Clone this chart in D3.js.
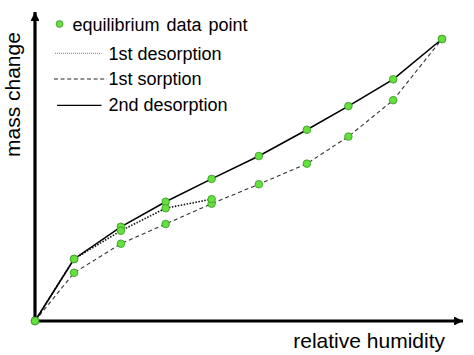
<!DOCTYPE html>
<html>
<head>
<meta charset="utf-8">
<script src="https://cdn.jsdelivr.net/npm/d3@7"></script>
<style>
  body { margin: 0; background: #fff; }
  text { font-family: "Liberation Sans", Arial, sans-serif; fill: #000; }
</style>
</head>
<body>
<svg id="fig" width="474" height="355"></svg>
<script>
// relative humidity steps (arbitrary units, 0..100)
var rh = [0, 9.6, 21.1, 32.1, 43.4, 55.0, 66.8, 77.0, 88.0, 100];

// mass change, arbitrary units
var secondDesorption = [0, 22.0, 33.4, 42.3, 50.4, 58.5, 67.8, 76.2, 85.7, 100];
var firstSorption    = [0, 17.1, 27.4, 34.4, 41.6, 48.5, 55.8, 65.4, 78.3, 100];
var firstDesorptionRh   = [43.4, 32.1, 21.1, 9.6, 0];
var firstDesorptionMass = [43.2, 40.0, 32.0, 22.0, 0];

var legendLabels = ["equilibrium data point", "1st desorption", "1st sorption", "2nd desorption"];

var svg = d3.select("#fig");

var x = d3.scaleLinear().domain([0, 100]).range([35, 442]);
var y = d3.scaleLinear().domain([0, 100]).range([321, 39]);

// arrow marker
var defs = svg.append("defs");
defs.append("marker")
    .attr("id", "arrow")
    .attr("viewBox", "0 0 10 10")
    .attr("refX", 10).attr("refY", 5)
    .attr("markerWidth", 3.2).attr("markerHeight", 2.8)
    .attr("markerUnits", "strokeWidth")
    .attr("orient", "auto")
  .append("path")
    .attr("d", "M0,0L10,5L0,10Z")
    .attr("fill", "#000");

var line = d3.line().x(d => x(d[0])).y(d => y(d[1]));

var sorp = rh.map((r, i) => [r, firstSorption[i]]);
var des2 = rh.map((r, i) => [r, secondDesorption[i]]);
var des1 = firstDesorptionRh.map((r, i) => [r, firstDesorptionMass[i]]);

svg.append("path").attr("d", line(sorp))
    .attr("fill", "none").attr("stroke", "#333").attr("stroke-width", 1.1)
    .attr("stroke-dasharray", "4,3");

svg.append("path").attr("d", line(des1))
    .attr("fill", "none").attr("stroke", "#111").attr("stroke-width", 1.6)
    .attr("stroke-dasharray", "1.5,1.5");

svg.append("path").attr("d", line(des2))
    .attr("fill", "none").attr("stroke", "#000").attr("stroke-width", 1.6);

// axes with arrows
svg.append("line")
    .attr("x1", x(0)).attr("y1", y(0))
    .attr("x2", 463).attr("y2", y(0))
    .attr("stroke", "#000").attr("stroke-width", 3.2)
    .attr("marker-end", "url(#arrow)");
svg.append("line")
    .attr("x1", x(0)).attr("y1", y(0) + 1.6)
    .attr("x2", x(0)).attr("y2", 12)
    .attr("stroke", "#000").attr("stroke-width", 3.2)
    .attr("marker-end", "url(#arrow)");

// points
var pts = sorp.concat(des2).concat(des1);
svg.selectAll("circle.pt")
    .data(pts)
    .enter()
    .append("circle")
    .attr("class", "pt")
    .attr("cx", d => x(d[0]))
    .attr("cy", d => y(d[1]))
    .attr("r", 3.8)
    .attr("fill", "#66e03c")
    .attr("stroke", "#3f9e2c")
    .attr("stroke-width", 0.9);

// axis titles
svg.append("text")
    .attr("x", 445).attr("y", 348)
    .attr("text-anchor", "end")
    .style("font-size", "21px")
    .text("relative humidity");
svg.append("text")
    .attr("transform", "translate(20,157) rotate(-90)")
    .attr("text-anchor", "start")
    .style("font-size", "21px")
    .text("mass change");

// legend
svg.append("circle")
    .attr("cx", 59.5).attr("cy", 24).attr("r", 3.4)
    .attr("fill", "#66e03c").attr("stroke", "#3f9e2c").attr("stroke-width", 0.9);

var legY = [30.5, 59.5, 85, 110.5];
svg.selectAll("text.leg")
    .data(legendLabels)
    .enter()
    .append("text")
    .attr("class", "leg")
    .attr("x", (d, i) => i === 0 ? 72.5 : 108.5)
    .attr("y", (d, i) => legY[i])
    .style("font-size", "18px")
    .style("word-spacing", (d, i) => i === 0 ? "2px" : "0px")
    .text(d => d);

svg.append("line").attr("x1", 55).attr("x2", 101.5).attr("y1", 53.3).attr("y2", 53.3)
    .attr("stroke", "#777").attr("stroke-width", 1).attr("stroke-dasharray", "1,1");
svg.append("line").attr("x1", 54).attr("x2", 107).attr("y1", 79).attr("y2", 79)
    .attr("stroke", "#222").attr("stroke-width", 1).attr("stroke-dasharray", "4,2.6");
svg.append("line").attr("x1", 57).attr("x2", 101.5).attr("y1", 105.3).attr("y2", 105.3)
    .attr("stroke", "#000").attr("stroke-width", 1.2);
</script>
</body>
</html>
